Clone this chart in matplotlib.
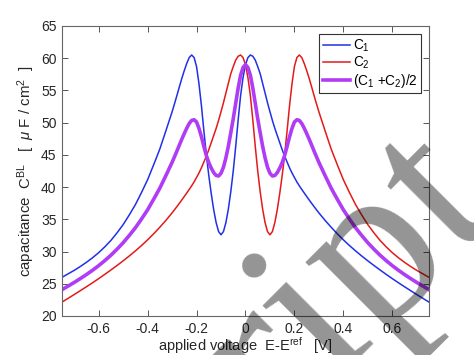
import numpy as np
import matplotlib
matplotlib.use("Agg")
import matplotlib.pyplot as plt
from matplotlib.ticker import FuncFormatter

plt.rcParams["font.family"] = ["Liberation Sans", "DejaVu Sans"]
plt.rcParams["mathtext.fontset"] = "custom"
plt.rcParams["mathtext.rm"] = "Liberation Sans"
plt.rcParams["mathtext.it"] = "Liberation Sans:italic"

# sample positions (V): coarse in the tails, fine around the peaks
voltage = np.round(np.concatenate([
    np.linspace(-0.75, -0.30, 19),
    np.linspace(-0.29, 0.29, 59),
    np.linspace(0.30, 0.75, 19)]), 3)

# C1 (uF/cm^2)
c1 = np.array([
    # -0.75 ... -0.30
    26.0, 26.54, 27.08, 27.68, 28.33, 29.04, 29.83, 30.73, 31.73, 32.9,
    34.18, 35.68, 37.28, 39.16, 41.15, 43.5, 45.93, 48.78, 51.68,
    # -0.29 ... 0.29
    52.95, 54.25, 55.6, 56.9, 58.1, 59.2, 60.1, 60.5, 60.1, 58.7,
    56.0, 52.6, 48.7, 45.0, 41.8, 39.0, 36.5, 34.5, 33.1, 32.6,
    33.1, 34.5, 36.6, 39.3, 42.5, 46.3, 50.4, 54.2, 57.0, 59.0,
    60.1, 60.5, 60.3, 59.7, 58.7, 57.6, 56.1, 54.6, 53.1, 51.7,
    50.35, 49.1, 48.0, 46.9, 45.8, 44.8, 43.9, 43.0, 42.2, 41.5,
    40.8, 40.2, 39.64, 39.09, 38.55, 38.02, 37.5, 36.99, 36.49,
    # 0.30 ... 0.75
    36.0, 34.85, 33.78, 32.77, 31.82, 30.93, 30.1, 29.31, 28.56, 27.84,
    27.14, 26.46, 25.8, 25.16, 24.54, 23.93, 23.33, 22.74, 22.16])

# C2 is drawn as the mirror image of C1 (same values, reversed in voltage)
c2 = c1[::-1].copy()

c_mean = (c1 + c2) / 2

xticks = [-0.6, -0.4, -0.2, 0, 0.2, 0.4, 0.6]
yticks = list(range(20, 66, 5))

fig = plt.figure(figsize=(4.74, 3.55), dpi=100)
ax = fig.add_axes([0.1308, 0.1099, 0.905 - 0.1308, 0.9268 - 0.1099])

ax.plot(voltage, c1, color="#2030e8", lw=1.1, label="C$_1$")
ax.plot(voltage, c2, color="#e41a1a", lw=1.1, label="C$_2$")
ax.plot(voltage, c_mean, color="#b03cf5", lw=2.6, label="(C$_1$ +C$_2$)/2")

ax.set_xlim(-0.75, 0.75)
ax.set_ylim(20, 65)
ax.set_xticks(xticks)
ax.set_yticks(yticks)
ax.xaxis.set_major_formatter(FuncFormatter(lambda v, p: "0" if abs(v) < 1e-9 else f"{v:g}"))
ax.tick_params(direction="in", top=True, right=True, length=4, width=0.7,
               colors="#555555", labelcolor="#262626", labelsize=10, pad=4)
for s in ax.spines.values():
    s.set_color("#666666")
    s.set_linewidth(0.8)

ax.set_xlabel(r"applied voltage  E-E$^{\mathrm{ref}}$   [V]", fontsize=10.5,
              color="#262626", labelpad=0)
ax.set_ylabel(r"capacitance  C$^{\mathrm{BL}}$   [  $\mu$ F / cm$^2$  ]", fontsize=10.8,
              color="#262626", labelpad=3)

leg = ax.legend(loc="upper right", fontsize=9.8, fancybox=False, framealpha=1,
                edgecolor="#333333", handlelength=2.0, handletextpad=0.2,
                borderpad=0.25, labelspacing=0.05, borderaxespad=0.6)
leg.get_frame().set_linewidth(0.8)

# watermark
fig.text(0.583, -0.225, "ript", fontsize=165, family="Liberation Serif",
         color="black", alpha=0.42, rotation=45, rotation_mode="anchor",
         ha="left", va="baseline", zorder=10)

fig.savefig("out.png", dpi=100)
